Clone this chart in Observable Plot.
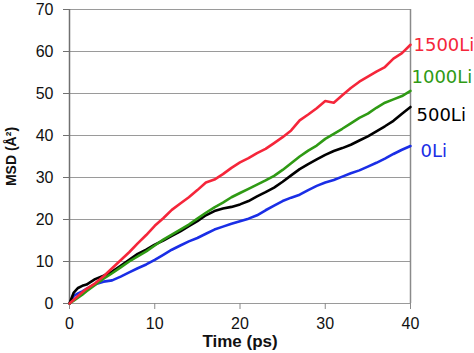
<!DOCTYPE html>
<html>
<head>
<meta charset="utf-8">
<script src="https://cdn.jsdelivr.net/npm/d3@7"></script>
<script src="https://cdn.jsdelivr.net/npm/@observablehq/plot@0.6"></script>
<style>
  html, body { margin: 0; padding: 0; background: #fff; }
  #chart svg { display: block; }
</style>
</head>
<body>
<div id="chart"></div>
<script>
const times = [0, 0.5, 1, 1.5, 2, 3, 4, 5, 6, 7, 8, 9, 10, 11, 12, 13, 14, 15, 16, 17, 18, 19, 20,
  21, 22, 23, 24, 25, 26, 27, 28, 29, 30, 31, 32, 33, 34, 35, 36, 37, 38, 39, 40];
const msd0Li = [0, 1.8, 2.4, 2.9, 3.5, 4.6, 5.2, 5.5, 6.4, 7.4, 8.4, 9.3, 10.4, 11.6, 12.8, 13.8, 14.8, 15.6, 16.6, 17.6, 18.3, 19.0, 19.6,
  20.2, 21.0, 22.2, 23.3, 24.4, 25.2, 25.9, 27.0, 28.0, 28.8, 29.4, 30.2, 31.0, 31.7, 32.6, 33.5, 34.5, 35.6, 36.6, 37.5];
const msd500Li = [0, 2.6, 3.7, 4.2, 4.5, 5.8, 6.6, 7.6, 9.0, 10.4, 11.8, 12.8, 14.0, 15.0, 16.1, 17.2, 18.4, 19.6, 21.0, 22.0, 22.6, 23.0, 23.6,
  24.4, 25.5, 26.5, 27.6, 29.0, 30.5, 32.0, 33.2, 34.3, 35.4, 36.3, 37.0, 37.8, 38.8, 39.8, 41.0, 42.2, 43.5, 45.2, 46.8];
const msd1000Li = [0, 0.7, 1.4, 2.1, 2.9, 4.4, 5.9, 7.2, 8.6, 10.0, 11.2, 12.4, 13.8, 15.2, 16.4, 17.6, 18.8, 20.2, 21.6, 22.9, 24.0, 25.3, 26.3,
  27.3, 28.3, 29.3, 30.4, 31.8, 33.4, 35.0, 36.4, 37.6, 39.2, 40.4, 41.6, 42.9, 44.2, 45.2, 46.6, 47.8, 48.6, 49.4, 50.6];
const msd1500Li = [0, 0.9, 1.8, 2.7, 3.5, 4.8, 6.5, 8.4, 10.3, 12.2, 14.3, 16.3, 18.5, 20.3, 22.3, 23.8, 25.3, 27.0, 28.8, 29.5, 30.8, 32.3, 33.6,
  34.6, 35.8, 36.8, 38.2, 39.6, 41.2, 43.6, 45.0, 46.5, 48.2, 47.8, 49.6, 51.3, 52.8, 54.0, 55.2, 56.3, 58.3, 59.6, 61.6];

const seriesNames = ["0Li", "500Li", "1000Li", "1500Li"];
const seriesColors = ["#1a2ee6", "#000000", "#2f9a14", "#f5263a"];
const labelY = [36.3, 44.9, 53.9, 61.5];
const xTicks = [0, 10, 20, 30, 40];
const yTicks = [0, 10, 20, 30, 40, 50, 60, 70];
const xTitle = "Time (ps)";
const yTitle = "MSD (Å²)";

const seriesValues = [msd0Li, msd500Li, msd1000Li, msd1500Li];
const rows = [];
seriesNames.forEach((name, s) => {
  times.forEach((t, i) => rows.push({series: name, time: t, msd: seriesValues[s][i]}));
});
const labelRows = seriesNames.map((name, s) => ({series: name, time: 40, msd: labelY[s]}));

const labelDx = {"1500Li": 3, "1000Li": 1, "500Li": 6, "0Li": 10};

const plot = Plot.plot({
  width: 474,
  height: 353,
  marginLeft: 69,
  marginRight: 64,
  marginTop: 9,
  marginBottom: 50,
  style: {fontFamily: "'Liberation Sans', Arial, sans-serif", fontSize: "16px", background: "#fff", overflow: "visible"},
  x: {domain: [0, 40]},
  y: {domain: [0, 70]},
  color: {domain: seriesNames, range: seriesColors},
  marks: [
    Plot.ruleY(yTicks, {stroke: "#9a9a9a", strokeWidth: 1, strokeOpacity: 1}),
    Plot.ruleX([40], {stroke: "#8a8a8a", strokeWidth: 1.5}),
    Plot.ruleX([0], {stroke: "#707070", strokeWidth: 1.5}),
    Plot.axisY({ticks: yTicks, tickSize: 6, tickPadding: 10, stroke: "#707070", color: "#111", fontSize: 16, label: null}),
    Plot.axisX({ticks: xTicks, tickSize: 6, tickPadding: 8, stroke: "#8a8a8a", color: "#111", fontSize: 16, label: null}),
    Plot.text([yTitle], {frameAnchor: "left", text: d => d, rotate: -90, dx: -58, textAnchor: "middle",
      fontWeight: "bold", fontSize: 14, fill: "#111"}),
    Plot.text([xTitle], {frameAnchor: "bottom", text: d => d, dy: 43, textAnchor: "middle",
      fontWeight: "bold", fontSize: 17, fill: "#111"}),
    Plot.line(rows, {x: "time", y: "msd", z: "series", stroke: "series", strokeWidth: 2.6, curve: "linear"}),
    ...seriesNames.map(name => Plot.text(labelRows.filter(d => d.series === name), {
      x: "time", y: "msd", text: "series", fill: "series", textAnchor: "start", dx: labelDx[name],
      fontFamily: "'DejaVu Sans', sans-serif", fontSize: 18
    }))
  ]
});
document.getElementById("chart").appendChild(plot);
</script>
</body>
</html>
